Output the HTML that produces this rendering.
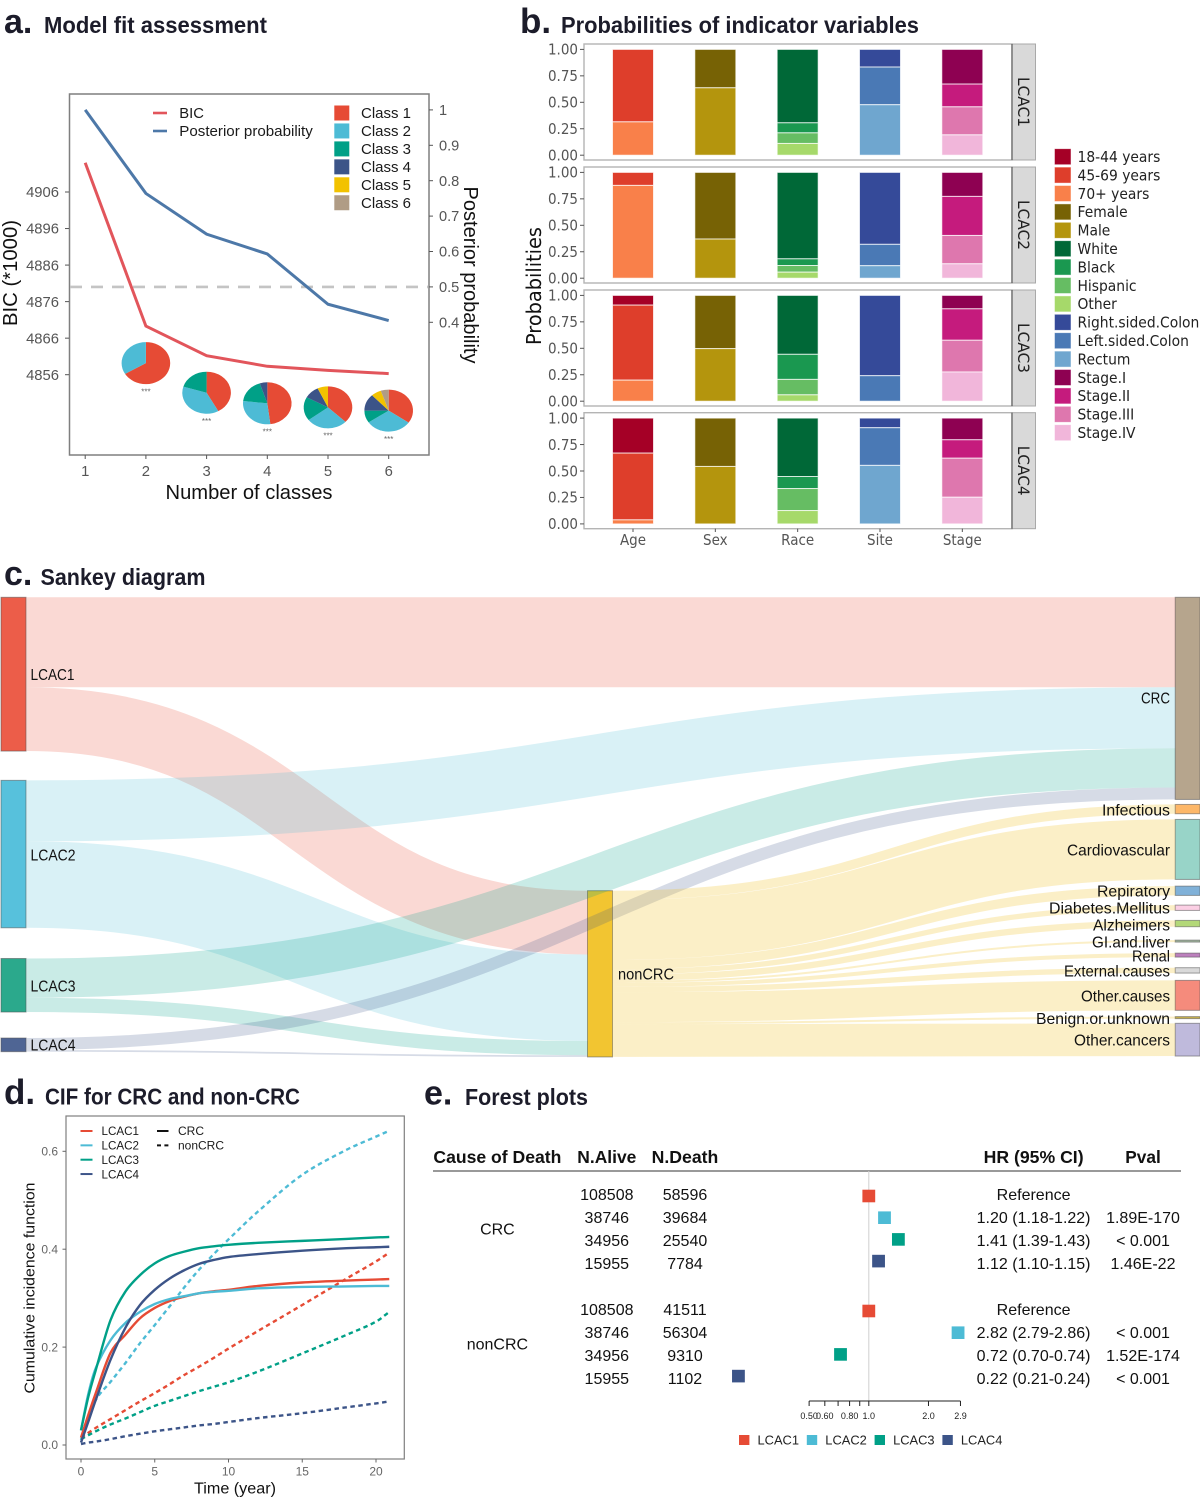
<!DOCTYPE html>
<html lang="en">
<head>
<meta charset="utf-8">
<title>Latent class analysis figure</title>
<style>
  html, body { margin: 0; padding: 0; background: #fff; }
  body { width: 1200px; height: 1497px; overflow: hidden; }
  svg { display: block; font-family: "Liberation Sans", Arial, sans-serif; }
  .ttl { font-weight: 700; fill: #1c1c2a; }
</style>
</head>
<body>
<svg id="fig" xmlns="http://www.w3.org/2000/svg" width="1200" height="1497" viewBox="0 0 1200 1497">
  <rect width="1200" height="1497" fill="#fff"/>

  <g id="panelC"></g>
  <g id="panelA"></g>
  <g id="panelB"></g>
  <g id="panelD"></g>
  <g id="panelE"></g>

  <g>
    <text class="ttl" x="4" y="33" font-size="34">a.</text>
    <text class="ttl" x="44" y="33" font-size="23" textLength="223" lengthAdjust="spacingAndGlyphs">Model fit assessment</text>
    <text class="ttl" x="520" y="33" font-size="35">b.</text>
    <text class="ttl" x="561" y="33" font-size="23" textLength="358" lengthAdjust="spacingAndGlyphs">Probabilities of indicator variables</text>
    <text class="ttl" x="4" y="585" font-size="34">c.</text>
    <text class="ttl" x="40.5" y="585" font-size="23" textLength="165" lengthAdjust="spacingAndGlyphs">Sankey diagram</text>
    <text class="ttl" x="4" y="1104" font-size="35">d.</text>
    <text class="ttl" x="45" y="1104.5" font-size="23" textLength="255" lengthAdjust="spacingAndGlyphs">CIF for CRC and non-CRC</text>
    <text class="ttl" x="424" y="1104.5" font-size="34">e.</text>
    <text class="ttl" x="465" y="1105" font-size="23" textLength="123" lengthAdjust="spacingAndGlyphs">Forest plots</text>
  </g>

  <g fill="#111">
    <text transform="translate(17 273) rotate(-90)" text-anchor="middle" font-size="20" textLength="106" lengthAdjust="spacingAndGlyphs">BIC (*1000)</text>
    <text transform="translate(464 275) rotate(90)" text-anchor="middle" font-size="20" textLength="177" lengthAdjust="spacingAndGlyphs">Posterior probability</text>
    <text x="249" y="499" text-anchor="middle" font-size="20" textLength="167" lengthAdjust="spacingAndGlyphs">Number of classes</text>
    <text transform="translate(541 286) rotate(-90)" text-anchor="middle" font-family="DejaVu Sans, sans-serif" font-size="20" textLength="118" lengthAdjust="spacingAndGlyphs">Probabilities</text>
    <text transform="translate(34.5 1288) rotate(-90)" text-anchor="middle" font-size="15" textLength="211" lengthAdjust="spacingAndGlyphs">Cumulative incidence function</text>
    <text x="235" y="1493.5" text-anchor="middle" font-size="15.5" textLength="82" lengthAdjust="spacingAndGlyphs">Time (year)</text>
  </g>
</svg>

<script>
/* ---------- Panel a data ---------- */
const classCounts = [1, 2, 3, 4, 5, 6];
const bicValues = [4914, 4869.3, 4861.2, 4858.3, 4857.2, 4856.3];
const posteriorValues = [1, 0.764, 0.649, 0.593, 0.451, 0.405];
const bicTicks = [4856, 4866, 4876, 4886, 4896, 4906];
const posteriorTicks = [0.4, 0.5, 0.6, 0.7, 0.8, 0.9, 1];
const pieClass2 = [0.664, 0.336];
const pieClass3 = [0.42, 0.377, 0.203];
const pieClass4 = [0.48, 0.287, 0.183, 0.05];
const pieClass5 = [0.372, 0.275, 0.183, 0.10, 0.07];
const pieClass6 = [0.347, 0.308, 0.095, 0.13, 0.067, 0.053];
const classNames = ['Class 1', 'Class 2', 'Class 3', 'Class 4', 'Class 5', 'Class 6'];
const classColors = ['#e64b35', '#4dbbd5', '#00a087', '#3c5488', '#f2c200', '#b09c85'];

/* ---------- Panel b data (top of stack first, one row per class) ---------- */
const facetNames = ['LCAC1', 'LCAC2', 'LCAC3', 'LCAC4'];
const variableNames = ['Age', 'Sex', 'Race', 'Site', 'Stage'];
const ageProbs = [[0, 0.685, 0.315], [0, 0.123, 0.877], [0.092, 0.709, 0.199], [0.331, 0.631, 0.038]];
const sexProbs = [[0.363, 0.637], [0.63, 0.37], [0.503, 0.497], [0.457, 0.543]];
const raceProbs = [[0.694, 0.095, 0.10, 0.111], [0.817, 0.063, 0.063, 0.057], [0.557, 0.237, 0.146, 0.06], [0.552, 0.114, 0.208, 0.126]];
const siteProbs = [[0.167, 0.356, 0.477], [0.68, 0.202, 0.118], [0.759, 0.241, 0], [0.091, 0.356, 0.553]];
const stageProbs = [[0.328, 0.215, 0.265, 0.192], [0.227, 0.369, 0.268, 0.136], [0.127, 0.297, 0.30, 0.276], [0.205, 0.174, 0.369, 0.252]];
const probTicks = [0, 0.25, 0.5, 0.75, 1];
const ageLevels = ['18-44 years', '45-69 years', '70+ years'];
const sexLevels = ['Female', 'Male'];
const raceLevels = ['White', 'Black', 'Hispanic', 'Other'];
const siteLevels = ['Right.sided.Colon', 'Left.sided.Colon', 'Rectum'];
const stageLevels = ['Stage.I', 'Stage.II', 'Stage.III', 'Stage.IV'];
const ageColors = ['#a50026', '#de3e2b', '#f9804a'];
const sexColors = ['#776205', '#b4950d'];
const raceColors = ['#006837', '#1a9850', '#66bd63', '#a6d96a'];
const siteColors = ['#354a99', '#4a79b5', '#6fa6cf'];
const stageColors = ['#8e0152', '#c51b7d', '#de77ae', '#f1b6da'];

/* ---------- Panel c / e shared data ---------- */
const lcacNames = ['LCAC1', 'LCAC2', 'LCAC3', 'LCAC4'];
const lcacColors = ['#e64b35', '#4dbbd5', '#00a087', '#3c5488'];
const nAlive = [108508, 38746, 34956, 15955];
const crcDeaths = [58596, 39684, 25540, 7784];
const nonCrcDeaths = [41511, 56304, 9310, 1102];
const causeNames = ['Infectious', 'Cardiovascular', 'Repiratory', 'Diabetes.Mellitus', 'Alzheimers', 'GI.and.liver', 'Renal', 'External.causes', 'Other.causes', 'Benign.or.unknown', 'Other.cancers'];
const causeDeaths = [6050, 39060, 6050, 3450, 4100, 1300, 2600, 3500, 19500, 1300, 21300];
const causeColors = ['#fdb768', '#98d4c8', '#80b1d8', '#fbcfe4', '#b3d878', '#a3b8a0', '#bc80bd', '#d9d9d9', '#f58b7c', '#c8b34e', '#bfbadc'];

/* ---------- Panel d data ---------- */
const cifTimes = [0, 0.5, 1, 2, 3, 4, 5, 6, 7, 8, 9, 10, 12, 15, 18, 20, 20.9];
const crcLcac1 = [0.015, 0.062, 0.106, 0.188, 0.225, 0.259, 0.28, 0.294, 0.303, 0.31, 0.314, 0.317, 0.325, 0.332, 0.336, 0.338, 0.339];
const crcLcac2 = [0.03, 0.105, 0.157, 0.214, 0.249, 0.272, 0.288, 0.298, 0.304, 0.31, 0.313, 0.315, 0.32, 0.323, 0.324, 0.325, 0.325];
const crcLcac3 = [0.03, 0.099, 0.153, 0.255, 0.313, 0.347, 0.371, 0.386, 0.395, 0.402, 0.406, 0.409, 0.413, 0.417, 0.421, 0.424, 0.425];
const crcLcac4 = [0.005, 0.048, 0.092, 0.174, 0.239, 0.286, 0.317, 0.34, 0.357, 0.37, 0.378, 0.384, 0.39, 0.397, 0.402, 0.404, 0.405];
const nonLcac1 = [0.015, 0.025, 0.035, 0.053, 0.071, 0.089, 0.106, 0.124, 0.143, 0.16, 0.178, 0.197, 0.233, 0.286, 0.34, 0.375, 0.393];
const nonLcac2 = [0.01, 0.052, 0.092, 0.129, 0.167, 0.208, 0.245, 0.283, 0.322, 0.358, 0.39, 0.42, 0.477, 0.552, 0.603, 0.63, 0.642];
const nonLcac3 = [0.012, 0.02, 0.028, 0.042, 0.054, 0.067, 0.08, 0.09, 0.10, 0.11, 0.119, 0.128, 0.15, 0.187, 0.225, 0.252, 0.272];
const nonLcac4 = [0.002, 0.005, 0.007, 0.012, 0.018, 0.023, 0.028, 0.032, 0.036, 0.04, 0.043, 0.047, 0.055, 0.065, 0.077, 0.085, 0.089];
const cifXTicks = [0, 5, 10, 15, 20];
const cifYTicks = [0, 0.2, 0.4, 0.6];

/* ---------- Panel e data ---------- */
const crcHr = [1, 1.20, 1.41, 1.12];
const nonCrcHr = [1, 2.82, 0.72, 0.22];
const crcHrText = ['Reference', '1.20 (1.18-1.22)', '1.41 (1.39-1.43)', '1.12 (1.10-1.15)'];
const nonCrcHrText = ['Reference', '2.82 (2.79-2.86)', '0.72 (0.70-0.74)', '0.22 (0.21-0.24)'];
const crcPval = ['', '1.89E-170', '< 0.001', '1.46E-22'];
const nonCrcPval = ['', '< 0.001', '1.52E-174', '< 0.001'];
const hrAxisTicks = [0.5, 0.6, 0.7, 0.8, 0.9, 1, 2, 2.9];
const hrAxisLabels = ['0.50', '0.60', '', '0.80', '', '1.0', '2.0', '2.9'];

/* ---------- Helpers ---------- */
const NS = 'http://www.w3.org/2000/svg';
function mk(parent, tag, attrs) {
  const el = document.createElementNS(NS, tag);
  for (const k in attrs) el.setAttribute(k, attrs[k]);
  parent.appendChild(el);
  return el;
}
/* y is the vertical centre of the text; sx condenses horizontally */
function txt(parent, str, x, y, o) {
  o = o || {};
  const a = {
    'text-anchor': o.anchor || 'start',
    'font-size': o.size || 14,
    fill: o.fill || '#111',
    dy: '.35em'
  };
  if (o.family) a['font-family'] = o.family;
  if (o.weight) a['font-weight'] = o.weight;
  if (o.w) { a.textLength = o.w; a.lengthAdjust = 'spacingAndGlyphs'; }
  if (o.rot) { a.transform = 'translate(' + x + ' ' + y + ') rotate(' + o.rot + ')'; }
  else if (o.sx) { a.transform = 'translate(' + x + ' ' + y + ') scale(' + o.sx + ' 1)'; }
  else { a.x = x; a.y = y; }
  const el = mk(parent, 'text', a);
  el.textContent = str;
  return el;
}
function linePath(pts) {
  return 'M' + pts.map(p => p[0].toFixed(2) + ' ' + p[1].toFixed(2)).join('L');
}
function smoothPath(pts) {
  let d = 'M' + pts[0][0].toFixed(2) + ' ' + pts[0][1].toFixed(2);
  for (let i = 0; i < pts.length - 1; i++) {
    const p0 = pts[Math.max(i - 1, 0)], p1 = pts[i], p2 = pts[i + 1], p3 = pts[Math.min(i + 2, pts.length - 1)];
    const h = (p2[0] - p1[0]) / 3;
    const m1 = (p2[1] - p0[1]) / Math.max(p2[0] - p0[0], 0.01);
    const m2 = (p3[1] - p1[1]) / Math.max(p3[0] - p1[0], 0.01);
    d += 'C' + (p1[0] + h).toFixed(2) + ' ' + (p1[1] + m1 * h).toFixed(2) + ' ' + (p2[0] - h).toFixed(2) + ' ' + (p2[1] - m2 * h).toFixed(2) + ' ' + p2[0].toFixed(2) + ' ' + p2[1].toFixed(2);
  }
  return d;
}

/* ---------- Panel a ---------- */
(function () {
  const g = document.getElementById('panelA');
  const xA = c => 85.2 + (c - 1) * 60.7;
  const yBic = v => 192 - (v - 4906) * 3.654;
  const yPost = v => 322.3 - (v - 0.4) * 354;

  const frame = mk(g, 'rect', { x: 69.5, y: 94, width: 359.5, height: 361, fill: 'none', stroke: '#7f7f7f', 'stroke-width': 1.5 });
  
  

  classCounts.forEach(c => {
    const t = mk(g, 'line', { x1: xA(c), x2: xA(c), y1: 455, y2: 459, stroke: '#555', 'stroke-width': 1 });
    
    
    const l = txt(g, String(c), xA(c), 471, { anchor: 'middle', size: 14.8, fill: '#555' });
    
    
  });
  bicTicks.forEach(v => {
    const t = mk(g, 'line', { x1: 65, x2: 69, y1: yBic(v), y2: yBic(v), stroke: '#555', 'stroke-width': 1 });
    
    
    const l = txt(g, String(v), 59, yBic(v), { anchor: 'end', size: 14.8, fill: '#555' });
    
    
  });
  posteriorTicks.forEach(v => {
    const t = mk(g, 'line', { x1: 429, x2: 433, y1: yPost(v), y2: yPost(v), stroke: '#555', 'stroke-width': 1 });
    
    
    const l = txt(g, String(v), 439, yPost(v), { size: 14.6, fill: '#555' });
    
    
  });

  const ref = mk(g, 'line', { x1: 70, x2: 428.5, y1: yPost(0.5), y2: yPost(0.5), stroke: '#c4c4c4', 'stroke-width': 2.6, 'stroke-dasharray': '12 9' });
  
  

  const bic = mk(g, 'path', { d: linePath(bicValues.map((v, i) => [xA(classCounts[i]), yBic(v)])), fill: 'none', stroke: '#e2555b', 'stroke-width': 3 });
  
  
  const post = mk(g, 'path', { d: linePath(posteriorValues.map((v, i) => [xA(classCounts[i]), yPost(v)])), fill: 'none', stroke: '#4d78a8', 'stroke-width': 3 });
  
  

  const pies = [pieClass2, pieClass3, pieClass4, pieClass5, pieClass6];
  pies.forEach((fracs, pi) => {
    const c = classCounts[pi + 1];
    const cx = xA(c), cy = yBic(bicValues[pi + 1]) + 37, rx = 24.3, ry = 21;
    let acc = 0;
    fracs.forEach((f, si) => {
      const a0 = acc * 2 * Math.PI, a1 = (acc + f) * 2 * Math.PI;
      acc += f;
      const d = 'M' + cx + ' ' + cy + 'L' + (cx + rx * Math.sin(a0)) + ' ' + (cy - ry * Math.cos(a0)) +
        'A' + rx + ' ' + ry + ' 0 ' + (f > 0.5 ? 1 : 0) + ' 1 ' + (cx + rx * Math.sin(a1)) + ' ' + (cy - ry * Math.cos(a1)) + 'Z';
      const s = mk(g, 'path', { d: d, fill: classColors[si] });
      
      
    });
    const st = txt(g, '***', cx, cy + 28.5, { anchor: 'middle', size: 8, fill: '#666' });
    
    
  });

  const seriesNames = ['BIC', 'Posterior probability'];
  const seriesColors = ['#e2555b', '#4d78a8'];
  seriesNames.forEach((n, i) => {
    const y = 113 + i * 18;
    const k = mk(g, 'line', { x1: 153, x2: 167, y1: y, y2: y, stroke: seriesColors[i], 'stroke-width': 2.6 });
    
    
    const l = txt(g, n, 179.3, y, { size: 14.8, fill: '#1a1a1a', w: i ? 133.5 : 24.7 });
    
    
  });
  classNames.forEach((n, i) => {
    const y = 113 + i * 17.95;
    const k = mk(g, 'rect', { x: 334.3, y: y - 7.5, width: 15, height: 15, fill: classColors[i] });
    
    
    const l = txt(g, n, 361, y, { size: 14.8, fill: '#1a1a1a', w: 50 });
    
    
  });
})();

/* ---------- Panel b ---------- */
(function () {
  const g = document.getElementById('panelB');
  const DV = '"DejaVu Sans", sans-serif';
  const facetTop = [44, 167, 290, 412.7];
  const xB = i => 633 + i * 82.33;
  const yB = (f, v) => facetTop[f] + 111.2 - v * 105.8;
  const BAR_W = 41;
  const vars = [
    [ageProbs, ageColors, ageLevels], [sexProbs, sexColors, sexLevels], [raceProbs, raceColors, raceLevels],
    [siteProbs, siteColors, siteLevels], [stageProbs, stageColors, stageLevels]
  ];

  facetNames.forEach((name, f) => {
    const top = facetTop[f];
    const panel = mk(g, 'rect', { x: 584, y: top, width: 428, height: 116, fill: '#fff', stroke: '#b4b4b4', 'stroke-width': 1.4 });
    
    
    const strip = mk(g, 'rect', { x: 1012, y: top, width: 23.5, height: 116, fill: '#d9d9d9', stroke: '#a9a9a9', 'stroke-width': 1 });
    
    
    const div = mk(g, 'line', { x1: 1012, x2: 1012, y1: top, y2: top + 116, stroke: '#444', 'stroke-width': 1 });
    
    
    const stxt = txt(g, name, 1023.5, top + 58, { anchor: 'middle', size: 16, fill: '#222', family: DV, rot: 90, w: 50 });
    
    

    probTicks.forEach(v => {
      const t = mk(g, 'line', { x1: 580, x2: 584, y1: yB(f, v), y2: yB(f, v), stroke: '#555', 'stroke-width': 1 });
      
      
      const l = txt(g, v.toFixed(2), 578, yB(f, v), { anchor: 'end', size: 15, fill: '#555', family: DV, sx: 0.9 });
      
      
    });

    vars.forEach((spec, vi) => {
      const values = spec[0][f];
      let acc = 1;
      values.forEach((v, si) => {
        if (v <= 0) return;
        const yTop = yB(f, acc), yBot = yB(f, acc - v);
        acc -= v;
        const r = mk(g, 'rect', { x: xB(vi) - BAR_W / 2, y: yTop, width: BAR_W, height: yBot - yTop, fill: spec[1][si], stroke: '#fff', 'stroke-opacity': 0.72, 'stroke-width': 1 });
        
        
      });
    });
  });

  variableNames.forEach((n, i) => {
    const t = mk(g, 'line', { x1: xB(i), x2: xB(i), y1: 528.7, y2: 532, stroke: '#555', 'stroke-width': 1 });
    
    
    const l = txt(g, n, xB(i), 539.5, { anchor: 'middle', size: 15, fill: '#555', family: DV, sx: 0.9 });
    
    
  });

  const legendLevels = [].concat(ageLevels, sexLevels, raceLevels, siteLevels, stageLevels);
  const legendColors = [].concat(ageColors, sexColors, raceColors, siteColors, stageColors);
  legendLevels.forEach((n, i) => {
    const y = 156.7 + i * 18.4;
    const k = mk(g, 'rect', { x: 1054.5, y: y - 8, width: 16.5, height: 16, fill: legendColors[i], stroke: '#fff', 'stroke-opacity': 0.6, 'stroke-width': 0.8 });
    
    
    const l = txt(g, n, 1077.5, y, { size: 15, fill: '#222', family: DV, sx: 0.925 });
    
    
  });
})();

/* ---------- Panel c ---------- */
(function () {
  const g = document.getElementById('panelC');
  const K = 90 / 58596;            /* px per death */
  const h = v => v * K;
  const sum = a => a.reduce((s, v) => s + v, 0);
  const LEFT_X0 = 1, LEFT_X1 = 26, MID_X0 = 587.5, MID_X1 = 612.5, RIGHT_X0 = 1175.2, RIGHT_X1 = 1200;
  const TOP = 597.3, MID_TOP = 890.7;
  const leftGaps = [29.3, 30.7, 26];
  const causeGaps = [5, 5.7, 6.7, 9.7, 10, 13.4, 11, 10.6, 7.3, 6.3, 4.7];
  const midColor = '#f2c531';
  const crcColor = '#b6a58d';
  const nodeColors = ['#ec5d49', '#57c1dc', '#2ba98c', '#4f6594'];

  function node(x0, x1, y0, y1, fill, name) {
    const r = mk(g, 'rect', { x: x0, y: y0, width: x1 - x0, height: y1 - y0, fill: fill, stroke: '#555', 'stroke-opacity': 0.55, 'stroke-width': 1 });
    
    
  }
  /* links are stroked centre-lines, so steep bands get vertically thicker */
  function link(x0, x1, y0, y1, width, color, op, name) {
    const m = (x0 + x1) / 2;
    const d = 'M' + x0 + ' ' + y0 + 'C' + m + ' ' + y0 + ' ' + m + ' ' + y1 + ' ' + x1 + ' ' + y1;
    const p = mk(g, 'path', { d: d, fill: 'none', stroke: color, 'stroke-opacity': op, 'stroke-width': width });
    
    
  }

  /* Layout */
  const leftTops = [];
  let yy = TOP;
  lcacNames.forEach((n, i) => {
    leftTops.push(yy);
    yy += h(crcDeaths[i] + nonCrcDeaths[i]) + (leftGaps[i] || 0);
  });
  const crcBottom = TOP + h(sum(crcDeaths));
  const midBottom = MID_TOP + h(sum(nonCrcDeaths));
  const causeTops = [];
  let cy = crcBottom;
  causeDeaths.forEach((v, i) => {
    cy += causeGaps[i];
    causeTops.push(cy);
    cy += h(v);
  });

  /* Nodes */
  lcacNames.forEach((n, i) => {
    node(LEFT_X0, LEFT_X1, leftTops[i], leftTops[i] + h(crcDeaths[i] + nonCrcDeaths[i]), nodeColors[i], 'sankey-node-' + n.toLowerCase());
  });
  node(MID_X0, MID_X1, MID_TOP, midBottom, midColor, 'sankey-node-noncrc');
  node(RIGHT_X0, RIGHT_X1, TOP, crcBottom, crcColor, 'sankey-node-crc');
  causeNames.forEach((n, i) => {
    node(RIGHT_X0, RIGHT_X1, causeTops[i], causeTops[i] + h(causeDeaths[i]), causeColors[i], 'sankey-node-' + n.toLowerCase().replace(/\./g, '-'));
  });

  /* Links */
  let crcY = TOP, midY = MID_TOP;
  lcacNames.forEach((n, i) => {
    const top = leftTops[i];
    const hc = h(crcDeaths[i]), hn = h(nonCrcDeaths[i]);
    link(LEFT_X1, RIGHT_X0, top + hc / 2, crcY + hc / 2, hc, lcacColors[i], 0.21, 'sankey-link-' + n.toLowerCase() + '-crc');
    link(LEFT_X1, MID_X0, top + hc + hn / 2, midY + hn / 2, hn, lcacColors[i], 0.21, 'sankey-link-' + n.toLowerCase() + '-noncrc');
    crcY += hc;
    midY += hn;
  });
  let outY = MID_TOP;
  causeNames.forEach((n, i) => {
    const hh = h(causeDeaths[i]);
    link(MID_X1, RIGHT_X0, outY + hh / 2, causeTops[i] + hh / 2, hh, midColor, 0.27, 'sankey-link-noncrc-' + n.toLowerCase().replace(/\./g, '-'));
    outY += hh;
  });

  /* Labels */
  const leftLabelWidths = [44, 45, 45, 45];
  const leftLabelY = [674.3, 854.7, 985.7, 1045];
  lcacNames.forEach((n, i) => {
    const l = txt(g, n, 30.5, leftLabelY[i], { size: 16, fill: '#111', w: leftLabelWidths[i] });
    
    
  });
  const midLabel = txt(g, 'nonCRC', 618, 973.7, { size: 16, fill: '#111', w: 56 });
  
  
  const crcLabel = txt(g, 'CRC', 1170, 698, { anchor: 'end', size: 16, fill: '#111', w: 29 });
  
  
  const causeLabelWidths = [68, 103, 73, 121, 77, 78, 38, 106, 89, 134, 96];
  const causeLabelY = [810, 850, 891, 908, 925, 942, 956, 971, 996, 1018.5, 1040];
  causeNames.forEach((n, i) => {
    const l = txt(g, n, 1170, causeLabelY[i], { anchor: 'end', size: 16, fill: '#111', w: causeLabelWidths[i] });
    
    
  });
})();

/* ---------- Panel d ---------- */
(function () {
  const g = document.getElementById('panelD');
  const xD = t => 81 + t * 14.75;
  const yD = v => 1445 - v * 489.5;

  const frame = mk(g, 'rect', { x: 66, y: 1116, width: 338.3, height: 343, fill: 'none', stroke: '#7f7f7f', 'stroke-width': 1.2 });
  
  

  cifXTicks.forEach(t => {
    const tk = mk(g, 'line', { x1: xD(t), x2: xD(t), y1: 1459, y2: 1462.5, stroke: '#666', 'stroke-width': 1 });
    
    
    const l = txt(g, String(t), xD(t), 1471.5, { anchor: 'middle', size: 12, fill: '#666' });
    
    
  });
  cifYTicks.forEach(v => {
    const tk = mk(g, 'line', { x1: 62.5, x2: 66, y1: yD(v), y2: yD(v), stroke: '#666', 'stroke-width': 1 });
    
    
    const l = txt(g, v.toFixed(1), 58, yD(v), { anchor: 'end', size: 12, fill: '#666' });
    
    
  });

  const nonSeries = [nonLcac1, nonLcac2, nonLcac3, nonLcac4];
  const crcSeries = [crcLcac1, crcLcac2, crcLcac3, crcLcac4];
  nonSeries.forEach((s, i) => {
    const p = mk(g, 'path', { d: smoothPath(s.map((v, k) => [xD(cifTimes[k]), yD(v)])), fill: 'none', stroke: lcacColors[i], 'stroke-width': 2.4, 'stroke-dasharray': '4.5 3.5' });
    
    
  });
  crcSeries.forEach((s, i) => {
    const p = mk(g, 'path', { d: smoothPath(s.map((v, k) => [xD(cifTimes[k]), yD(v)])), fill: 'none', stroke: lcacColors[i], 'stroke-width': 2.4 });
    
    
  });

  lcacNames.forEach((n, i) => {
    const y = 1131 + i * 14.35;
    const k = mk(g, 'line', { x1: 80.5, x2: 92.5, y1: y, y2: y, stroke: lcacColors[i], 'stroke-width': 2 });
    
    
    const l = txt(g, n, 101.5, y, { size: 12, fill: '#1a1a1a', w: 37.5 });
    
    
  });
  const endpointNames = ['CRC', 'nonCRC'];
  const endpointDash = ['none', '4 3.4'];
  endpointNames.forEach((n, i) => {
    const y = 1131 + i * 14.35;
    const k = mk(g, 'line', { x1: 157, x2: 168.5, y1: y, y2: y, stroke: '#111', 'stroke-width': 2, 'stroke-dasharray': endpointDash[i] });
    
    
    const l = txt(g, n, 178, y, { size: 12, fill: '#1a1a1a', w: i ? 46 : 26 });
    
    
  });
})();

/* ---------- Panel e ---------- */
(function () {
  const g = document.getElementById('panelE');
  const xH = hr => 868.8 + Math.log(hr) * 86.1;
  const COL_CAUSE = 497.4, COL_ALIVE = 606.8, COL_DEATH = 685, COL_HR = 1033.6, COL_P = 1143;

  const headerNames = ['Cause of Death', 'N.Alive', 'N.Death', 'HR (95% CI)', 'Pval'];
  const headerCols = [COL_CAUSE, COL_ALIVE, COL_DEATH, COL_HR, COL_P];
  const headerWidths = [128, 59, 66.7, 100, 35.5];
  headerNames.forEach((n, i) => {
    const l = txt(g, n, headerCols[i], 1156.7, { anchor: 'middle', size: 17.5, weight: 700, fill: '#111', w: headerWidths[i] });
    
    
  });

  const rule = mk(g, 'line', { x1: 433, x2: 1181, y1: 1171, y2: 1171, stroke: '#333', 'stroke-width': 1 });
  
  
  const refl = mk(g, 'line', { x1: xH(1), x2: xH(1), y1: 1171, y2: 1401, stroke: '#cfcfcf', 'stroke-width': 1 });
  
  

  const groups = [
    ['CRC', crcDeaths, crcHr, crcHrText, crcPval, 1194.3, 1196, 1229],
    ['nonCRC', nonCrcDeaths, nonCrcHr, nonCrcHrText, nonCrcPval, 1309.3, 1311, 1344]
  ];
  groups.forEach(gr => {
    const gl = txt(g, gr[0], COL_CAUSE, gr[7], { anchor: 'middle', size: 16, fill: '#111' });
    
    
    lcacNames.forEach((n, i) => {
      const y = gr[5] + i * 23;
      const a = txt(g, String(nAlive[i]), COL_ALIVE, y, { anchor: 'middle', size: 16, fill: '#111' });
      
      
      const d = txt(g, String(gr[1][i]), COL_DEATH, y, { anchor: 'middle', size: 16, fill: '#111' });
      
      
      const hrT = txt(g, gr[3][i], COL_HR, y, { anchor: 'middle', size: 16, fill: '#111' });
      
      
      if (gr[4][i]) {
        const p = txt(g, gr[4][i], COL_P, y, { anchor: 'middle', size: 16, fill: '#111' });
        
        
      }
      const my = gr[6] + i * 21.7;
      const m = mk(g, 'rect', { x: xH(gr[2][i]) - 6.4, y: my - 6.3, width: 12.8, height: 12.6, fill: lcacColors[i] });
      
      
    });
  });

  const axis = mk(g, 'line', { x1: xH(0.5), x2: xH(2.9), y1: 1401, y2: 1401, stroke: '#222', 'stroke-width': 1 });
  
  
  hrAxisTicks.forEach((v, i) => {
    const t = mk(g, 'line', { x1: xH(v), x2: xH(v), y1: 1401, y2: 1406, stroke: '#222', 'stroke-width': 1 });
    
    
    if (hrAxisLabels[i]) {
      const l = txt(g, hrAxisLabels[i], xH(v), 1416, { anchor: 'middle', size: 9, fill: '#222' });
      
      
    }
  });

  lcacNames.forEach((n, i) => {
    const x = 739 + i * 67.8;
    const k = mk(g, 'rect', { x: x, y: 1435, width: 10.4, height: 10, fill: lcacColors[i] });
    
    
    const l = txt(g, n, x + 18.5, 1440, { size: 13, fill: '#222', w: 41.5 });
    
    
  });
})();
</script>
</body>
</html>
